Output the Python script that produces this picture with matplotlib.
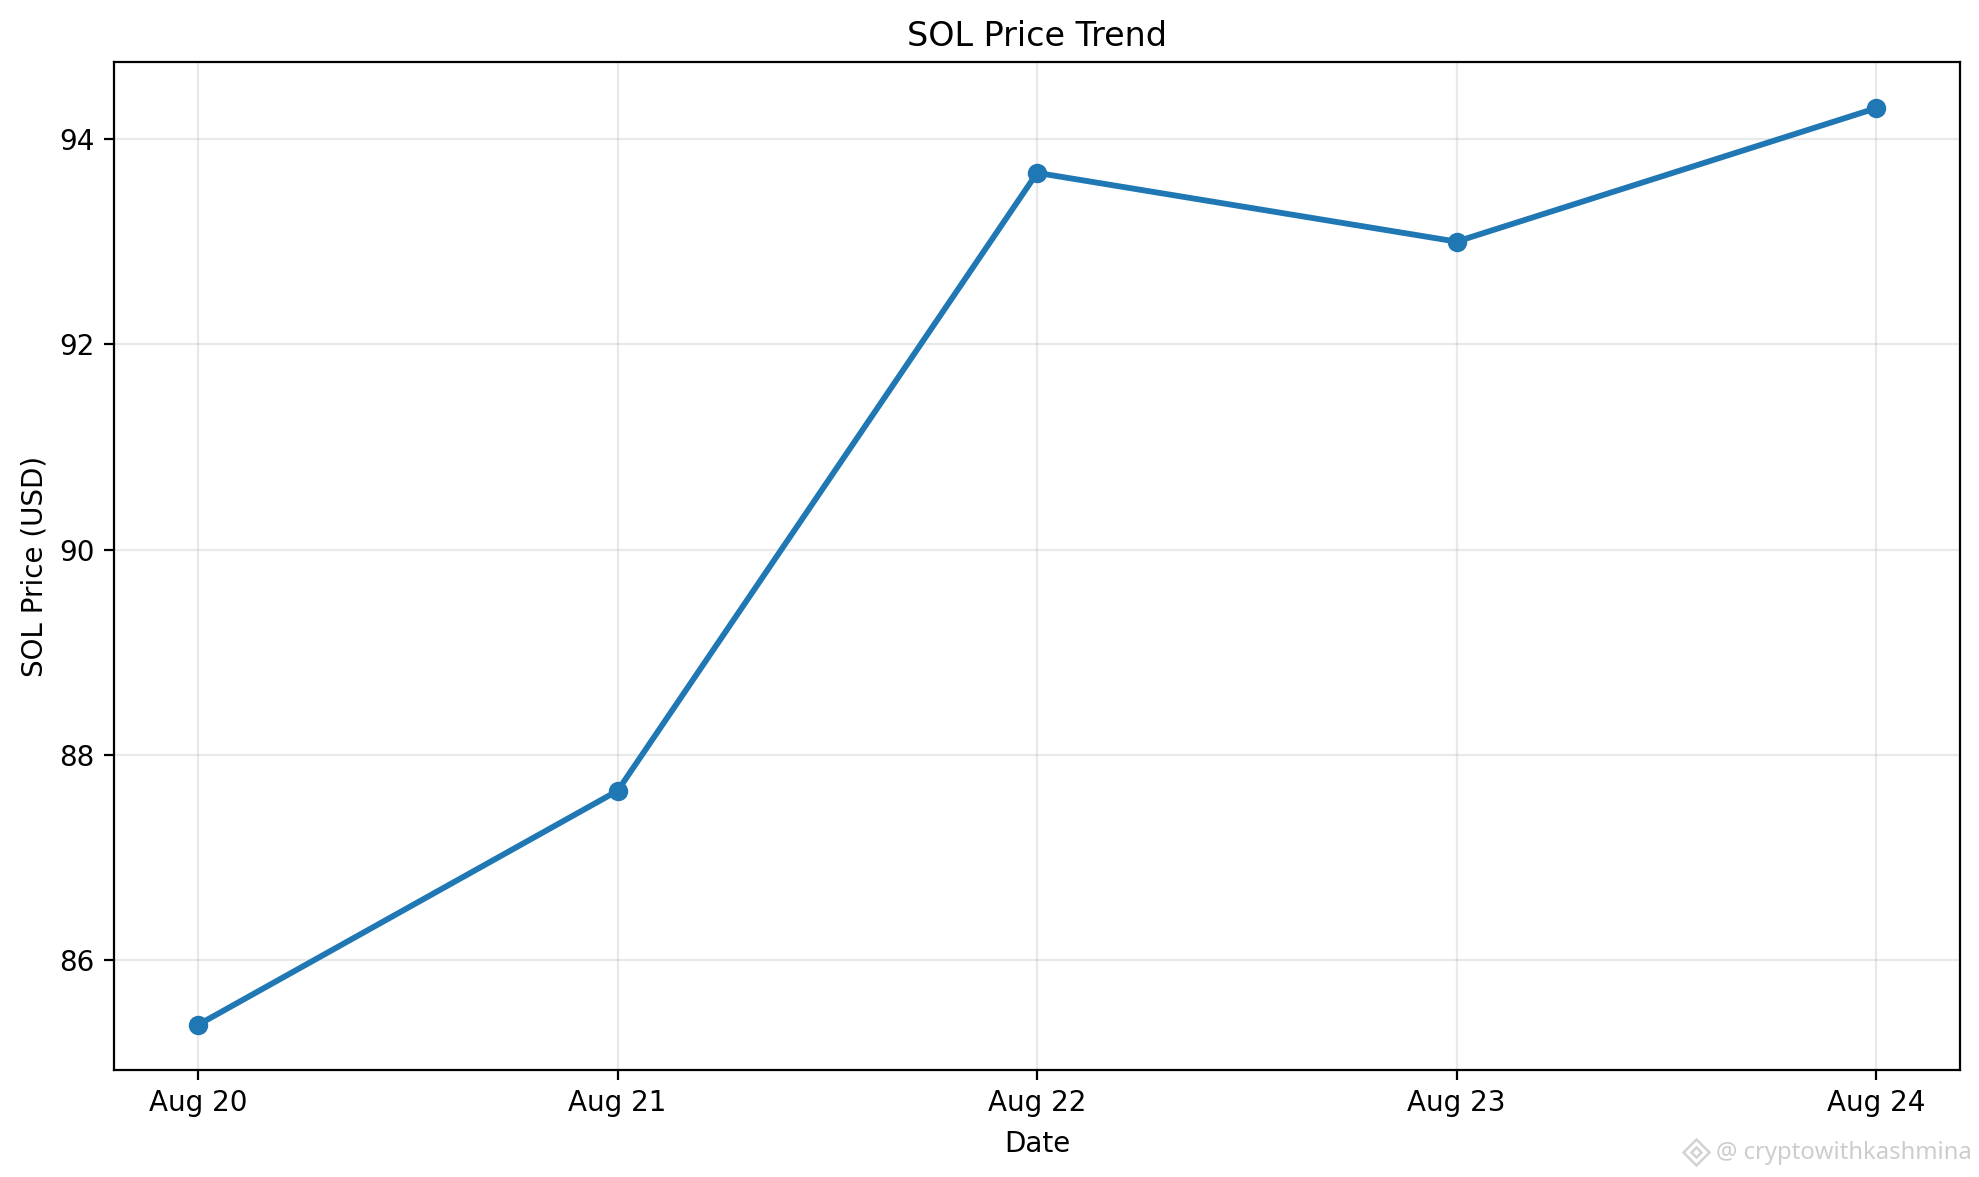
import matplotlib
matplotlib.use("Agg")
import matplotlib.pyplot as plt
from matplotlib.lines import Line2D

dates = ["Aug 20", "Aug 21", "Aug 22", "Aug 23", "Aug 24"]
prices = [85.37, 87.65, 93.67, 93.0, 94.3]

W, H = 1979, 1177
fig = plt.figure(figsize=(W / 200, H / 200), dpi=200)
ax = fig.add_axes([114.2 / W, 1 - 1070 / H, (1960 - 114.2) / W, (1070 - 62) / H])
ax.plot(dates, prices, marker="o", linewidth=2.1, markersize=6, color="#1f77b4")
ax.set_title("SOL Price Trend", pad=5.8)
ax.set_xlabel("Date", labelpad=4.4)
ax.set_ylabel("SOL Price (USD)")
ax.grid(True, alpha=0.27)
ax.set_ylim(84.93, 94.75)
fig.text(1972 / W, 1 - 1153 / H, "@ cryptowithkashmina", ha="right", va="center",
         fontsize=8.6, color="#cdcdcd", family="Noto Sans")
# watermark logo
for dx, dy, ms in [(1696, 1152, 6.5), (1696, 1152, 2.8)]:
    fig.add_artist(Line2D([dx / W], [1 - dy / H], transform=fig.transFigure, marker="D",
                          markersize=ms, markerfacecolor="none",
                          markeredgecolor="#d2d2d2", markeredgewidth=0.9, linestyle="none"))
fig.savefig("out.png", dpi=200)
